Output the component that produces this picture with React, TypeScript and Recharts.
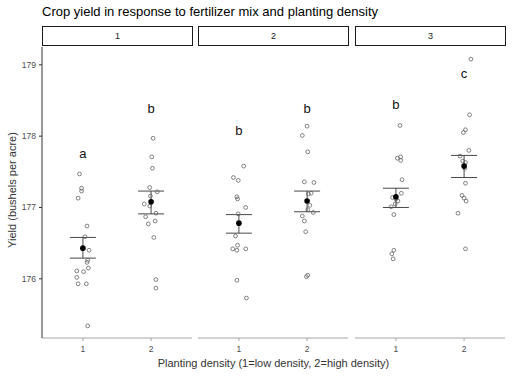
import { ScatterChart, Scatter, XAxis, YAxis, ErrorBar } from "recharts";

const mixes = ["1", "2", "3"];
const densityTicks = [1, 2];
const yTicks = [176, 177, 178, 179];

// plot yields, one array per fertilizer mix x planting density
const yieldMix1Low = [177.47, 177.27, 177.23, 177.13, 176.74, 176.59, 176.4, 176.26, 176.23, 176.15, 176.11, 176.1, 176.02, 175.93, 175.93, 175.34];
const jitterMix1Low = [0.95, 0.98, 0.98, 0.93, 1.06, 1.03, 1.09, 1.07, 1.06, 1.08, 0.91, 1.01, 0.91, 0.93, 1.05, 1.07];
const yieldMix1High = [177.97, 177.71, 177.55, 177.28, 177.16, 177.22, 177.05, 177.02, 176.92, 176.87, 176.81, 176.77, 176.58, 175.99, 175.87];
const jitterMix1High = [2.03, 2.01, 2.02, 1.98, 1.99, 2.09, 1.9, 1.98, 2.07, 1.92, 2.06, 1.96, 2.04, 2.07, 2.07];

const yieldMix2Low = [177.58, 177.42, 177.38, 177.15, 177.12, 177.0, 176.91, 176.6, 176.47, 176.42, 176.4, 176.42, 175.98, 175.73];
const jitterMix2Low = [1.07, 0.92, 0.99, 0.97, 0.98, 1.1, 0.99, 0.95, 0.98, 0.91, 0.97, 1.1, 0.97, 1.11];
const yieldMix2High = [178.14, 178.01, 177.78, 177.36, 177.35, 177.2, 177.19, 177.03, 176.97, 176.93, 176.88, 176.81, 176.66, 176.05, 176.03];
const jitterMix2High = [2.0, 1.93, 2.01, 1.96, 2.1, 2.06, 2.02, 2.04, 2.01, 2.09, 1.93, 1.96, 1.98, 2.01, 1.99];

const yieldMix3Low = [178.15, 177.69, 177.71, 177.66, 177.39, 177.2, 177.14, 177.12, 177.09, 177.05, 177.01, 176.9, 176.4, 176.35, 176.28];
const jitterMix3Low = [1.06, 1.02, 1.07, 1.07, 1.09, 1.08, 0.95, 1.0, 1.03, 0.99, 0.93, 0.97, 0.97, 0.94, 0.96];
const yieldMix3High = [179.08, 178.3, 178.09, 178.05, 177.8, 177.72, 177.65, 177.63, 177.55, 177.34, 177.17, 177.13, 177.09, 176.92, 176.42];
const jitterMix3High = [2.1, 2.08, 2.02, 1.99, 2.07, 1.94, 1.98, 2.02, 2.01, 2.02, 1.97, 2.0, 2.03, 1.91, 2.02];

// group means with +/- 1 SE
const means = [[176.43, 177.08], [176.78, 177.09], [177.15, 177.58]];
const seLow = [[176.29, 176.91], [176.64, 176.94], [177.0, 177.42]];
const seHigh = [[176.58, 177.23], [176.9, 177.23], [177.27, 177.73]];

// compact letter display
const letters = [["a", "b"], ["b", "b"], ["b", "c"]];
const letterY = [[177.69, 178.33], [178.02, 178.33], [178.38, 178.82]];

const yields = [
  [yieldMix1Low, yieldMix1High],
  [yieldMix2Low, yieldMix2High],
  [yieldMix3Low, yieldMix3High],
];
const jitters = [
  [jitterMix1Low, jitterMix1High],
  [jitterMix2Low, jitterMix2High],
  [jitterMix3Low, jitterMix3High],
];

const FONT = "'Liberation Sans', Arial, sans-serif";
const Y_DOMAIN = [175.17, 179.25];
const PANEL_LEFT = [42, 198, 355];
const PANEL_W = 150;
const TOP = 47;
const BOTTOM = 338;
const H = 376;

function Panel({ i }: { i: number }) {
  const points = yields[i].flatMap((arr, d) =>
    arr.map((y, k) => ({ x: jitters[i][d][k], y }))
  );
  const meanData = densityTicks.map((x, d) => ({
    x,
    y: means[i][d],
    err: [means[i][d] - seLow[i][d], seHigh[i][d] - means[i][d]],
  }));
  const letterData = densityTicks.map((x, d) => ({ x, y: letterY[i][d], label: letters[i][d] }));
  const first = i === 0;
  const left = first ? 0 : PANEL_LEFT[i];
  const width = first ? PANEL_LEFT[0] + PANEL_W : PANEL_W;

  return (
    <div style={{ position: "absolute", left, top: 0 }}>
      <ScatterChart width={width} height={H} margin={{ top: TOP, right: 0, left: 0, bottom: H - BOTTOM - 20 }}>
        <XAxis
          type="number"
          dataKey="x"
          domain={[0.4, 2.6]}
          ticks={densityTicks}
          height={20}
          tickSize={3}
          tickMargin={5}
          stroke="#a6a6a6"
          tick={{ fill: "#4d4d4d", fontSize: 8.5, fontFamily: FONT }}
        />
        <YAxis
          type="number"
          dataKey="y"
          domain={Y_DOMAIN}
          allowDataOverflow
          ticks={yTicks}
          hide={!first}
          width={42}
          tickSize={3}
          tickMargin={3}
          stroke="#333333"
          tick={{ fill: "#4d4d4d", fontSize: 8.5, fontFamily: FONT }}
        />
        <Scatter
          data={points}
          isAnimationActive={false}
          shape={(p: any) => (
            <circle cx={p.cx} cy={p.cy} r={1.9} fill="none" stroke="#5a5a5a" strokeWidth={0.75} />
          )}
        />
        <Scatter
          data={meanData}
          isAnimationActive={false}
          shape={(p: any) => <circle cx={p.cx} cy={p.cy} r={2.8} fill="#000000" />}
        >
          <ErrorBar dataKey="err" direction="y" width={13} stroke="#333333" strokeWidth={0.9} />
        </Scatter>
        <Scatter
          data={letterData}
          isAnimationActive={false}
          shape={(p: any) => (
            <text x={p.cx} y={p.cy} textAnchor="middle" fontSize={13} fontFamily={FONT} fill="#111111">
              {p.payload.label}
            </text>
          )}
        />
      </ScatterChart>
    </div>
  );
}

export default function App() {
  return (
    <div
      style={{
        position: "absolute",
        left: 0,
        top: 0,
        width: 512,
        height: H,
        background: "#ffffff",
        fontFamily: FONT,
        overflow: "hidden",
      }}
    >
      <div style={{ position: "absolute", left: 42, top: 3, fontSize: 13, lineHeight: "18px", color: "#000" }}>
        Crop yield in response to fertilizer mix and planting density
      </div>
      {mixes.map((m, i) => (
        <div
          key={m}
          style={{
            position: "absolute",
            left: PANEL_LEFT[i],
            top: 26,
            width: PANEL_W + 1,
            height: 20,
            boxSizing: "border-box",
            border: "1px solid #1a1a1a",
            fontSize: 9,
            lineHeight: "18px",
            textAlign: "center",
            color: "#1a1a1a",
          }}
        >
          {m}
        </div>
      ))}
      {mixes.map((m, i) => (
        <Panel key={m} i={i} />
      ))}
      <div
        style={{
          position: "absolute",
          left: 12,
          top: 190,
          transform: "translate(-50%, -50%) rotate(-90deg)",
          whiteSpace: "nowrap",
          fontSize: 11,
          color: "#333333",
        }}
      >
        Yield (bushels per acre)
      </div>
      <div
        style={{
          position: "absolute",
          left: 42,
          width: 463,
          top: 356,
          textAlign: "center",
          fontSize: 11,
          lineHeight: "14px",
          color: "#333333",
        }}
      >
        Planting density (1=low density, 2=high density)
      </div>
    </div>
  );
}
